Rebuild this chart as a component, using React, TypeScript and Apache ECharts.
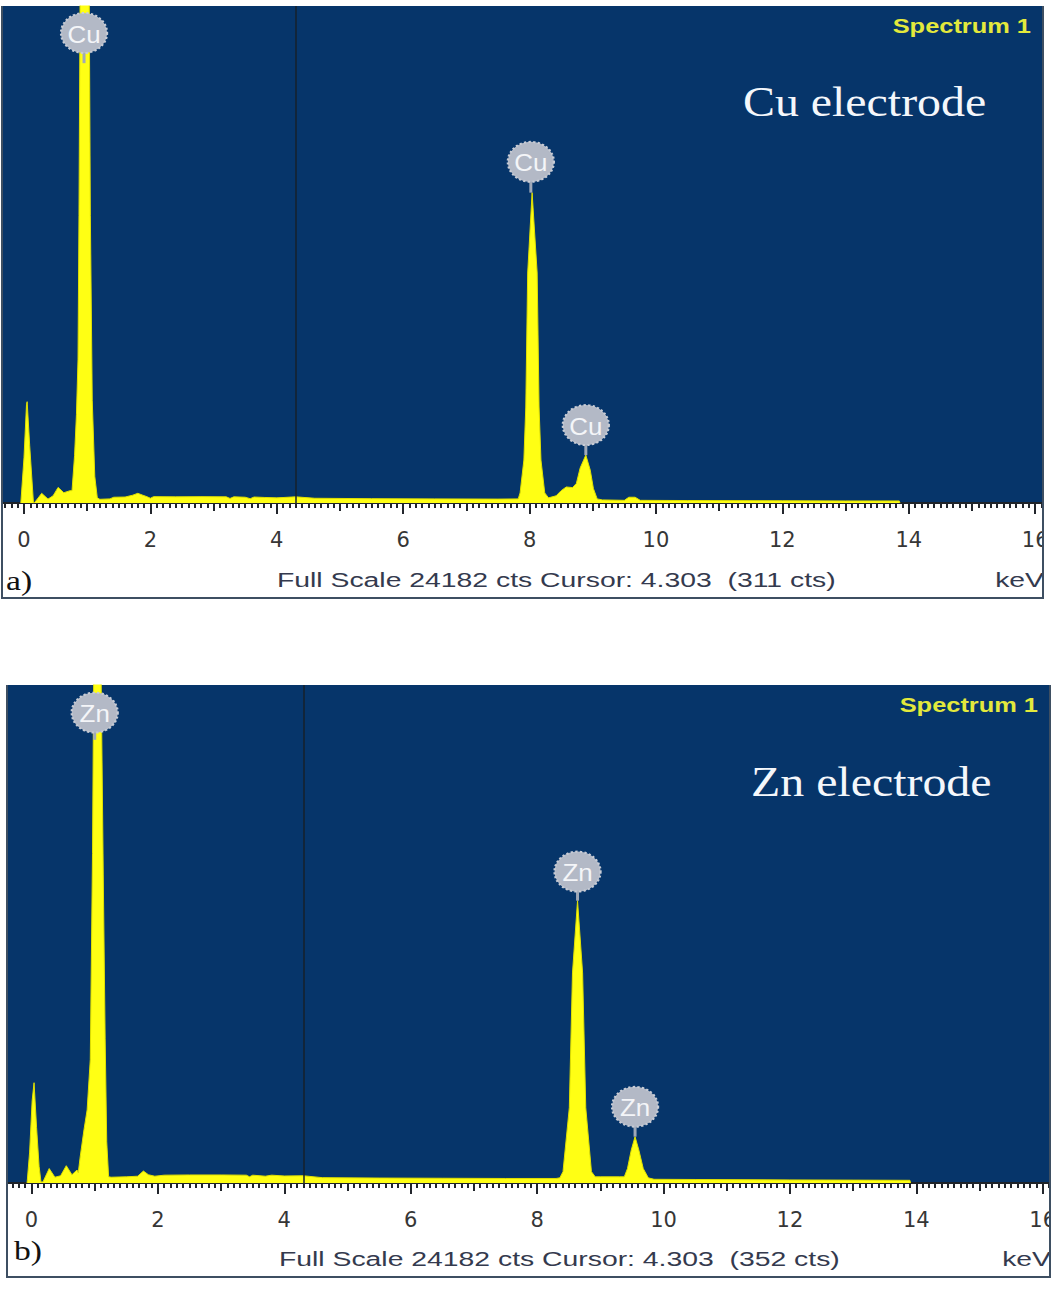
import { useEffect, useRef } from 'react';
import * as echarts from 'echarts';

const FULL_SCALE = 24182;
const CURSOR_KEV = 4.303;

// a) Cu electrode
const cuKeV = [
  -0.05, 0.0, 0.04, 0.05, 0.09, 0.15, 0.17, 0.28, 0.38, 0.46, 0.54, 0.63, 0.73, 0.76, 0.8, 0.83,
  0.855, 0.87, 0.89, 0.95, 1.03, 1.05, 1.08, 1.12, 1.16, 1.2, 1.36, 1.42, 1.6, 1.72, 1.8, 1.88,
  1.95, 2.0, 2.05, 2.4, 2.8, 3.2, 3.26, 3.32, 3.5, 3.58, 3.64, 3.8, 4.0, 4.3, 4.6, 5.5, 6.5, 7.5,
  7.82, 7.85, 7.91, 7.94, 7.97, 8.04, 8.12, 8.15, 8.18, 8.24, 8.3, 8.42, 8.5, 8.58, 8.68, 8.74,
  8.8, 8.89, 8.96, 9.01, 9.07, 9.15, 9.5, 9.57, 9.67, 9.75, 10.5, 12.0, 13.0, 13.85, 13.86,
];
const cuCounts = [
  0, 2200, 4800, 4930, 2800, 0, 30, 470, 190, 350, 760, 500, 600, 600, 2300, 4300,
  7000, 14000, 26000, 40000, 26000, 14000, 5000, 1300, 250, 180, 200, 280, 290, 380, 470, 380,
  300, 230, 310, 300, 310, 300, 220, 300, 280, 210, 290, 270, 250, 300, 230, 210, 200, 190,
  200, 490, 2090, 4670, 11190, 15100, 11190, 4670, 2090, 490, 250, 350, 600, 780, 750, 950,
  1700, 2330, 1600, 700, 200, 150, 130, 280, 280, 130, 120, 110, 100, 100, 0,
];
const cuPeakNames = ['Cu', 'Cu', 'Cu'];
const cuPeakKeV = [0.95, 8.02, 8.89];
const cuBadgeCounts = [22870, 16600, 3790];
const cuTipCounts = [21400, 15100, 2330];

// b) Zn electrode
const znKeV = [
  -0.07, -0.03, 0.01, 0.04, 0.08, 0.12, 0.15, 0.18, 0.28, 0.37, 0.46, 0.55, 0.64, 0.72, 0.74, 0.77,
  0.83, 0.88, 0.93, 0.965, 0.985, 1.04, 1.1, 1.135, 1.165, 1.19, 1.22, 1.26, 1.5, 1.68, 1.77, 1.85,
  1.95, 2.1, 2.5, 3.0, 3.4, 3.45, 3.5, 3.7, 3.8, 4.0, 4.3, 4.6, 5.5, 6.5, 7.5, 8.3,
  8.36, 8.41, 8.51, 8.56, 8.64, 8.72, 8.77, 8.86, 8.92, 9.0, 9.3, 9.38, 9.43, 9.49, 9.55, 9.61,
  9.68, 9.76, 9.85, 10.5, 12.0, 13.0, 13.9, 13.91,
];
const znCounts = [
  0, 1500, 4000, 4870, 2700, 800, 50, 50, 700, 280, 350, 840, 400, 630, 500, 1265,
  2580, 3550, 6000, 16000, 25000, 40000, 25000, 15000, 7000, 2000, 300, 280, 300, 330, 580, 400,
  330, 380, 390, 390, 380, 300, 380, 330, 380, 340, 352, 260, 240, 230, 220, 220,
  250, 550, 3660, 10200, 13710, 10200, 3660, 550, 300, 300, 300, 300, 700, 1600, 2250, 1600,
  700, 250, 180, 170, 150, 140, 130, 0,
];
const znPeakNames = ['Zn', 'Zn', 'Zn'];
const znPeakKeV = [1.0, 8.64, 9.55];
const znBadgeCounts = [22840, 15120, 3700];
const znTipCounts = [21520, 13710, 2250];

const panelTitles = ['Cu electrode', 'Zn electrode'];
const panelTags = ['a)', 'b)'];
const cursorCounts = [311, 352];

// x axis ticks (keV)
const labelTicks = [0, 2, 4, 6, 8, 10, 12, 14, 16];
const midTicks = [1, 3, 5, 7, 9, 11, 13, 15];
const minorTicks = Array.from({ length: 165 }, (_, i) => (i - 3) / 10);

const panels = [
  {
    keV: cuKeV, counts: cuCounts, names: cuPeakNames, peakKeV: cuPeakKeV,
    badge: cuBadgeCounts, tip: cuTipCounts,
    left: 2, top: 6, width: 1041, height: 497, bottom: 598, min: -0.348, max: 16.124,
    specY: 26, titleX: 743, titleY: 102, tagX: 6, tagY: 580, footY: 579, footX: 277,
  },
  {
    keV: znKeV, counts: znCounts, names: znPeakNames, peakKeV: znPeakKeV,
    badge: znBadgeCounts, tip: znTipCounts,
    left: 7, top: 685, width: 1043, height: 498, bottom: 1277, min: -0.388, max: 16.116,
    specY: 705, titleX: 751, titleY: 782, tagX: 14, tagY: 1250, footY: 1258, footX: 279,
  },
];

const sans = '"Liberation Sans", Arial, sans-serif';
const serif = '"Liberation Serif", "Times New Roman", serif';

function buildOption(): echarts.EChartsOption {
  const grid: any[] = [];
  const xAxis: any[] = [];
  const yAxis: any[] = [];
  const series: any[] = [];
  const graphic: any[] = [];

  panels.forEach((p, i) => {
    grid.push({
      left: p.left, top: p.top, width: p.width, height: p.height,
      show: true, backgroundColor: '#06356a', borderWidth: 0,
    });
    const base = {
      type: 'value', gridIndex: i, min: p.min, max: p.max, position: 'bottom',
      splitLine: { show: false },
    };
    xAxis.push({
      ...base,
      axisLine: { show: true, onZero: false, lineStyle: { color: '#1e2329', width: 2 } },
      axisTick: { show: true, length: 11, customValues: labelTicks, lineStyle: { color: '#22262c', width: 2 } },
      axisLabel: {
        show: true, customValues: labelTicks, margin: 26, color: '#363636',
        fontSize: 21, fontFamily: '"DejaVu Sans", sans-serif',
      },
    });
    xAxis.push({
      ...base,
      axisLine: { show: false },
      axisTick: { show: true, length: 8, customValues: midTicks, lineStyle: { color: '#22262c', width: 2 } },
      axisLabel: { show: false },
    });
    xAxis.push({
      ...base,
      axisLine: { show: false },
      axisTick: { show: true, length: 5, customValues: minorTicks, lineStyle: { color: '#22262c', width: 2 } },
      axisLabel: { show: false },
    });
    yAxis.push({ type: 'value', gridIndex: i, min: 0, max: FULL_SCALE, show: false, splitLine: { show: false } });

    series.push({
      type: 'line',
      xAxisIndex: i * 3,
      yAxisIndex: i,
      data: p.keV.map((k, j) => [k, p.counts[j]]),
      symbol: 'none',
      showSymbol: false,
      clip: true,
      lineStyle: { color: '#e0e000', width: 1 },
      areaStyle: { color: '#ffff14', opacity: 1 },
      markLine: {
        silent: true,
        symbol: ['none', 'none'],
        label: { show: false },
        lineStyle: { color: '#16202b', width: 1.5, type: 'solid' },
        data: [{ xAxis: CURSOR_KEV }],
      },
    });

    series.push({
      type: 'custom',
      xAxisIndex: i * 3,
      yAxisIndex: i,
      z: 5,
      clip: false,
      data: p.peakKeV.map((k, j) => [k, p.badge[j], p.tip[j]]),
      renderItem: (params: any, api: any) => {
        const c = api.coord([api.value(0), api.value(1)]);
        const t = api.coord([api.value(0), api.value(2)]);
        return {
          type: 'group',
          children: [
            {
              type: 'line',
              shape: { x1: c[0], y1: c[1], x2: t[0], y2: t[1] },
              style: { stroke: '#a0a9b8', lineWidth: 3 },
            },
            {
              type: 'circle',
              x: c[0], y: c[1], scaleX: 1.15,
              shape: { cx: 0, cy: 0, r: 20 },
              style: { fill: '#b3b9c6', stroke: '#c8ccd5', lineWidth: 2, lineDash: [2, 2] },
            },
            {
              type: 'text',
              x: c[0], y: c[1] + 1, scaleX: 1.08,
              style: {
                text: p.names[params.dataIndex], fill: '#f4f5f8', fontSize: 24,
                fontFamily: sans, align: 'center', verticalAlign: 'middle',
              },
            },
          ],
        };
      },
    });

    const right = p.left + p.width;
    graphic.push(
      {
        type: 'rect', z: 99, silent: true,
        shape: { x: right + 1, y: p.top - 6, width: 1060 - right, height: p.bottom - p.top + 12 },
        style: { fill: '#ffffff' },
      },
      {
        type: 'polyline', z: 100, silent: true,
        shape: { points: [[p.left, p.top], [p.left, p.bottom], [right, p.bottom], [right, p.top]] },
        style: { fill: 'none', stroke: '#3e4f62', lineWidth: 2 },
      },
      {
        type: 'text', z: 100, x: right - 12, y: p.specY, scaleX: 1.21,
        style: {
          text: 'Spectrum 1', fill: '#e3e93c', fontSize: 21, fontWeight: 'bold',
          fontFamily: sans, align: 'right', verticalAlign: 'middle',
        },
      },
      {
        type: 'text', z: 100, x: p.titleX, y: p.titleY, scaleX: 1.14,
        style: {
          text: panelTitles[i], fill: '#f4f7fb', fontSize: 42,
          fontFamily: serif, align: 'left', verticalAlign: 'middle',
        },
      },
      {
        type: 'text', z: 100, x: p.tagX, y: p.tagY, scaleX: 1.2,
        style: {
          text: panelTags[i], fill: '#111111', fontSize: 28,
          fontFamily: serif, align: 'left', verticalAlign: 'middle',
        },
      },
      {
        type: 'text', z: 100, x: p.footX, y: p.footY, scaleX: 1.35,
        style: {
          text: `Full Scale ${FULL_SCALE} cts Cursor: ${CURSOR_KEV}  (${cursorCounts[i]} cts)`,
          fill: '#343a4e', fontSize: 21, fontFamily: sans, align: 'left', verticalAlign: 'middle',
        },
      },
      {
        type: 'text', z: 98, x: right + 1, y: p.footY, scaleX: 1.35,
        style: {
          text: 'keV', fill: '#343a4e', fontSize: 21, fontFamily: sans,
          align: 'right', verticalAlign: 'middle',
        },
      },
    );
  });

  return { animation: false, backgroundColor: '#ffffff', grid, xAxis, yAxis, series, graphic };
}

export default function App() {
  const chartRef = useRef<HTMLDivElement>(null);

  useEffect(() => {
    document.body.style.margin = '0';
    if (!chartRef.current) return;
    const chart = echarts.init(chartRef.current, undefined, { renderer: 'svg' });
    chart.setOption(buildOption());
    return () => chart.dispose();
  }, []);

  return <div ref={chartRef} style={{ width: 1060, height: 1290 }} />;
}
